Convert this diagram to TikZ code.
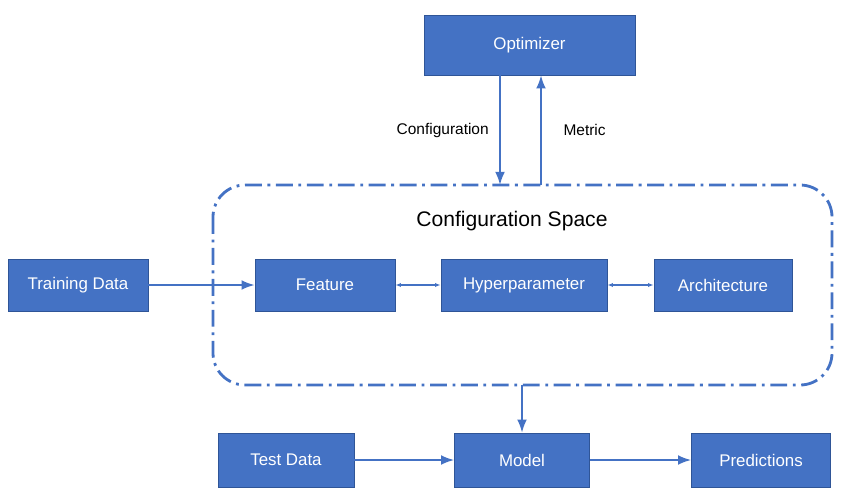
\documentclass[tikz,border=0pt]{standalone}
\usepackage{fontspec}
\setmainfont{Liberation Sans}
\usetikzlibrary{arrows.meta}
\definecolor{boxblue}{HTML}{4472C4}
\definecolor{edgeblue}{HTML}{2F5597}
\tikzset{every node/.style={align=center}, >=Latex,
  blk/.style={draw=edgeblue, fill=boxblue, text=white, minimum height=1.3cm, font=\fontsize{12}{14}\selectfont, inner sep=0pt},
  lnk/.style={->, draw=boxblue, line width=1.4pt},
  dbl/.style={{Latex[length=4pt]}-{Latex[length=4pt]}, draw=boxblue, line width=0.8pt}}
\begin{document}
\begin{tikzpicture}[x=0.025cm,y=-0.025cm]
  \useasboundingbox (0,0) rectangle (862,502);
  \draw[boxblue, line width=2pt, dash pattern=on 12pt off 4pt on 2pt off 4pt, rounded corners=0.8cm] (213,185) rectangle (832,385);
  \node[font=\fontsize{15}{18}\selectfont] (space) at (512,221) {Configuration Space};
  \node [blk, minimum width=5.275cm, minimum height=1.5cm] (opt) at (529.5,45) {Optimizer};
  \node [blk, minimum width=3.5cm] (train) at (78,285) {Training Data};
  \node [blk, minimum width=3.5cm] (feat) at (325,285) {Feature};
  \node [blk, minimum width=4.15cm] (hyper) at (524,285) {Hyperparameter};
  \node [blk, minimum width=3.45cm] (arch) at (723,285) {Architecture};
  \node [blk, minimum width=3.4cm, minimum height=1.35cm] (test) at (286,460) {Test Data};
  \node [blk, minimum width=3.375cm, minimum height=1.35cm] (model) at (522,460) {Model};
  \node [blk, minimum width=3.475cm, minimum height=1.35cm] (pred) at (761,460) {Predictions};
  \coordinate (cin) at (500,185);
  \coordinate (cout) at (541,185);
  \coordinate (sbot) at (522,385);
  \draw[lnk] (opt.south -| cin) -- node[left=4pt, font=\fontsize{11}{13}\selectfont] {Configuration} (cin);
  \draw[lnk] (cout) -- node[right=12pt, font=\fontsize{11}{13}\selectfont] {Metric} (opt.south -| cout);
  \draw[lnk] (train) -- (feat);
  \draw[dbl] (feat) -- (hyper);
  \draw[dbl] (hyper) -- (arch);
  \draw[lnk] (sbot) -- (model);
  \draw[lnk] (test) -- (model);
  \draw[lnk] (model) -- (pred);
\end{tikzpicture}
\end{document}
